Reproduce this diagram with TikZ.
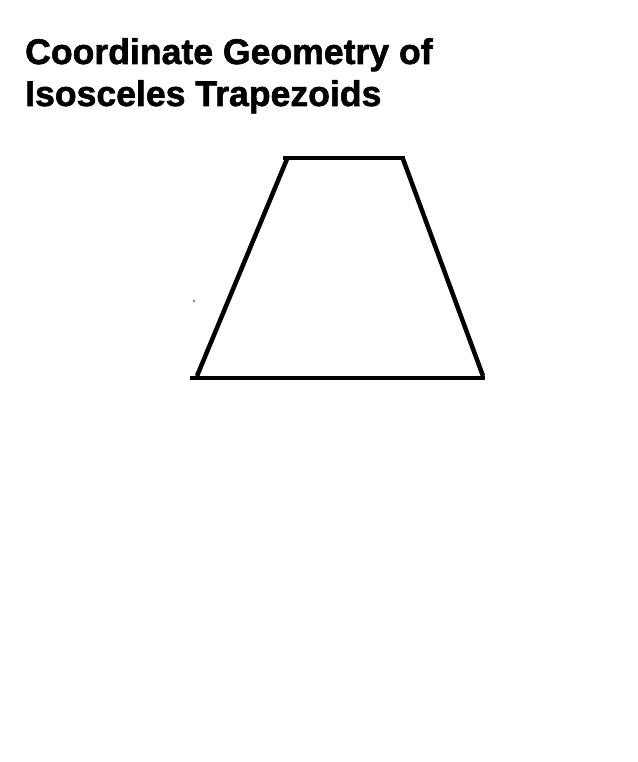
\documentclass[tikz,border=0pt]{standalone}
\usepackage{fontspec}
\setmainfont{Liberation Sans}[BoldFeatures={FakeBold=1.6}]
\begin{document}
\begin{tikzpicture}[x=1pt,y=-1pt,
  edge/.style={line width=4.5pt,black},
  title/.style={anchor=base west,inner sep=0pt,font=\bfseries\fontsize{35.6}{42}\selectfont}]
\useasboundingbox[fill=white] (0,0) rectangle (637,762);
\node[title] (t1) at (25,64) {Coordinate Geometry of};
\node[title] (t2) at (25,106) {Isosceles Trapezoids};
\coordinate (tl) at (283,158);
\coordinate (tr) at (405,158);
\coordinate (tla) at (287,159);
\coordinate (tra) at (403,159);
\coordinate (bl) at (190,378);
\coordinate (br) at (485,378);
\coordinate (bla) at (197,376);
\coordinate (bra) at (483,376);
\draw[edge] (tl) -- (tr);
\draw[edge] (bl) -- (br);
\draw[edge] (tla) -- (bla);
\draw[edge] (tra) -- (bra);
\fill (194,301) circle (0.8);
\end{tikzpicture}
\end{document}
